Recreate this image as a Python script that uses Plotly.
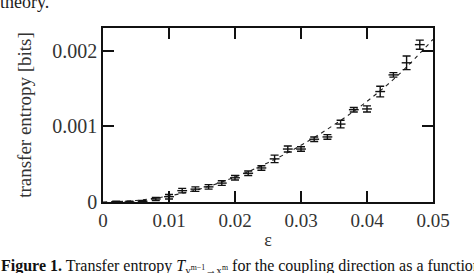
import plotly.graph_objects as go

# measured transfer entropy vs coupling epsilon
eps = [0.002, 0.004, 0.006, 0.008, 0.010, 0.012, 0.014, 0.016, 0.018, 0.020,
       0.022, 0.024, 0.026, 0.028, 0.030, 0.032, 0.034, 0.036, 0.038, 0.040,
       0.042, 0.044, 0.046, 0.048]
te = [0.00000, 0.00000, 0.00001, 0.00004, 0.00007, 0.00015, 0.00017, 0.00020,
      0.00025, 0.00032, 0.00038, 0.00045, 0.00057, 0.00070, 0.00070, 0.00083,
      0.00086, 0.00103, 0.00122, 0.00123, 0.00146, 0.00168, 0.00184, 0.00208]
err = [0.00001, 0.00001, 0.00001, 0.00002, 0.00003, 0.00003, 0.00003, 0.00003,
       0.00003, 0.00003, 0.00003, 0.00003, 0.00005, 0.00004, 0.00003, 0.00003,
       0.00003, 0.00005, 0.00003, 0.00004, 0.00007, 0.00003, 0.00009, 0.00006]

# theoretical (dashed) curve
theory_eps = [0.0, 0.005, 0.010, 0.015, 0.020, 0.025, 0.030, 0.035, 0.040, 0.045, 0.050]
theory_te = [0.0, 0.00002, 0.00008, 0.00018, 0.00033, 0.00052, 0.00075, 0.00102,
             0.00133, 0.00170, 0.00215]

x_ticks = [0, 0.01, 0.02, 0.03, 0.04, 0.05]
x_labels = ["0", "0.01", "0.02", "0.03", "0.04", "0.05"]
y_ticks = [0, 0.001, 0.002]
y_labels = ["0", "0.001", "0.002"]

SERIF = "Liberation Serif, Times New Roman, serif"

fig = go.Figure()
fig.add_trace(go.Scatter(
    x=theory_eps, y=theory_te, mode="lines",
    line=dict(color="#222", width=1.1, dash="4px,4px", shape="spline"),
    hoverinfo="skip", showlegend=False))
fig.add_trace(go.Scatter(
    x=eps, y=te, mode="markers",
    marker=dict(symbol="line-ew-open", size=7, color="#111",
                line=dict(color="#111", width=1.4)),
    error_y=dict(type="data", array=err, visible=True, color="#111",
                 thickness=1.4, width=4),
    showlegend=False))

fig.update_layout(
    width=474, height=273,
    margin=dict(l=103, r=41, t=28, b=71),
    paper_bgcolor="white", plot_bgcolor="white",
    font=dict(family=SERIF, color="#222"),
    xaxis=dict(range=[0, 0.05], tickvals=x_ticks, ticktext=x_labels,
               ticks="inside", ticklen=11, tickwidth=1.5, tickcolor="#111",
               showline=True, linecolor="#111", linewidth=1.5, mirror="ticks",
               showgrid=False, zeroline=False,
               tickfont=dict(size=19, family=SERIF, color="#333"),
               title=dict(text="ε", font=dict(size=18, family=SERIF, color="#333"),
                          standoff=4)),
    yaxis=dict(range=[0, 0.0023], tickvals=y_ticks, ticktext=y_labels,
               ticks="inside", ticklen=11, tickwidth=1.5, tickcolor="#111",
               showline=True, linecolor="#111", linewidth=1.5, mirror="ticks",
               showgrid=False, zeroline=False,
               tickfont=dict(size=20, family=SERIF, color="#333"),
               title=dict(text="transfer entropy [bits]",
                          font=dict(size=19, family=SERIF, color="#333"),
                          standoff=16)),
)

fig.add_annotation(
    xref="paper", yref="paper", x=-0.315, y=-0.37, xanchor="left", yanchor="middle",
    text="<b>Figure 1.</b> Transfer entropy <i>T</i><sub>y<sup>m−1</sup>→x<sup>m</sup></sub> for the coupling direction as a function",
    showarrow=False, font=dict(size=16, family=SERIF, color="#111"))
fig.add_annotation(
    xref="paper", yref="paper", x=-0.318, y=1.15, xanchor="left", yanchor="middle",
    text="theory.", showarrow=False, font=dict(size=18, family=SERIF, color="#222"))

fig.write_html("out.html")
